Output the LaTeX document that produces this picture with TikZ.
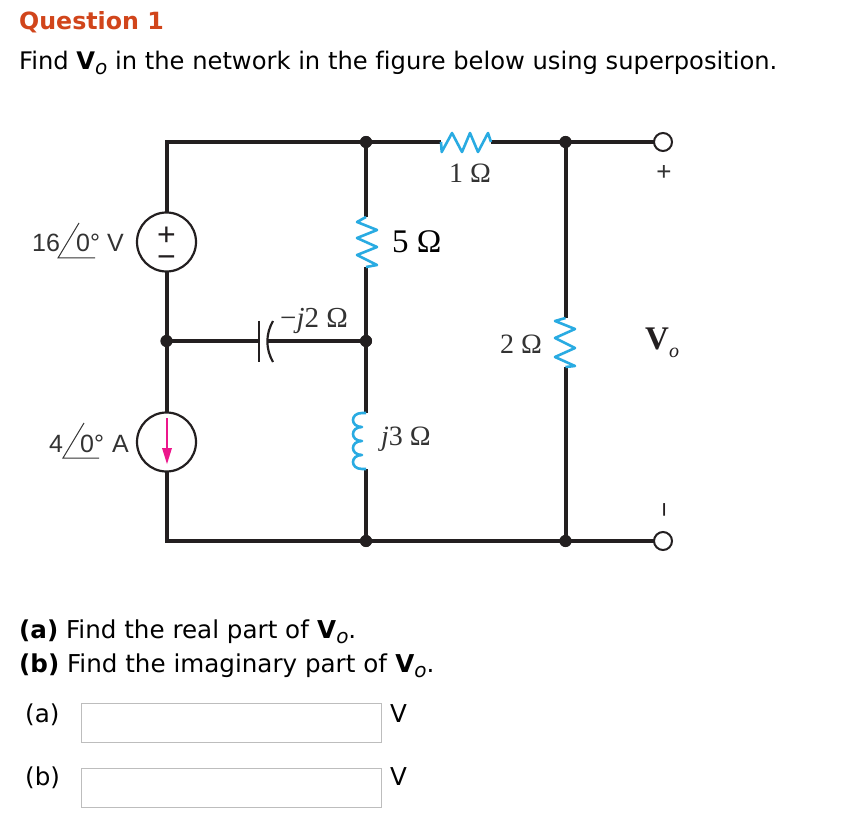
\documentclass[tikz,border=0pt]{standalone}
\usepackage{fontspec}
\setmainfont[Ligatures=NoCommon]{DejaVu Sans}
\newfontfamily\labf{Liberation Sans}
\newfontfamily\serf{Liberation Serif}
\definecolor{wirec}{HTML}{231F20}
\definecolor{cyanc}{HTML}{29ABE2}
\definecolor{pinkc}{HTML}{EC178C}
\definecolor{qred}{HTML}{D1451B}
\definecolor{boxc}{HTML}{BDBDBD}
\definecolor{labc}{HTML}{333333}
\tikzset{
  x=1pt,y=-1pt,
  wire/.style={draw=wirec,line width=4pt},
  thinw/.style={draw=wirec,line width=2.2pt},
  comp/.style={draw=cyanc,line width=2.6pt,line join=round},
  jn/.style={circle,fill=wirec,inner sep=0pt,minimum size=12pt},
  src/.style={circle,draw=wirec,line width=2.2pt,fill=white,inner sep=0pt,minimum size=59pt},
  term/.style={circle,draw=wirec,line width=2pt,fill=white,inner sep=0pt,minimum size=18pt},
  txt/.style={anchor=base west,inner sep=0pt,font=\fontsize{24.2}{26}\selectfont,text=black},
  txtb/.style={txt,font=\fontsize{24.6}{26}\selectfont},
  sans/.style={anchor=base west,inner sep=0pt,font=\labf\fontsize{25}{27}\selectfont,text=labc},
  ser/.style={anchor=base west,inner sep=0pt,font=\serf\fontsize{28}{30}\selectfont,text=labc},
  ang/.style={draw=labc,line width=1pt},
  inbox/.style={draw=boxc,line width=1.2pt,fill=white,anchor=north west,inner sep=0pt,minimum width=300pt,minimum height=39pt},
}
\newcommand{\Vo}{\textbf{V}\raisebox{-5pt}{\fontsize{20}{22}\selectfont\textit{o}}}
\begin{document}
\begin{tikzpicture}
\useasboundingbox[fill=white] (0,0) rectangle (854,834);

% heading and question
\node[txt,font=\bfseries\fontsize{23.7}{26}\selectfont,text=qred] (qt) at (19,30) {Question 1};
\node[txt] (qs) at (19,70) {Find \Vo{} in the network in the figure below using superposition.};

% circuit anchors
\coordinate (tl) at (166.5,142);
\coordinate (bl) at (166.5,541);
\node[jn] (tm) at (366,142) {};
\node[jn] (mm) at (366,341) {};
\node[jn] (bm) at (366,541) {};
\node[jn] (tr) at (565.5,142) {};
\node[jn] (br) at (565.5,541) {};
\node[jn] (mj) at (166.5,341) {};
\coordinate (r1a) at (441,142);
\coordinate (r1b) at (491,142);
\coordinate (r5a) at (366,217);
\coordinate (r5b) at (366,267);
\coordinate (r2a) at (565.5,318);
\coordinate (r2b) at (565.5,367);
\coordinate (la) at (366,413);
\coordinate (lb) at (366,469);
\coordinate (ca) at (259,341);
\coordinate (cb) at (267,341);
\coordinate (vsc) at (166.5,242);
\coordinate (isc) at (166.5,442);
\coordinate (tpc) at (663,142);
\coordinate (tnc) at (663,541);

% wires, drawn under the circles and dots, meeting them at their centres
\draw[wire] (vsc) -- (tl) -- (tm.center) -- (r1a);
\draw[wire] (r1b) -- (tr.center) -- (tpc);
\draw[wire] (tm.center) -- (r5a);
\draw[wire] (r5b) -- (mm.center) -- (la);
\draw[wire] (lb) -- (bm.center);
\draw[wire] (tr.center) -- (r2a);
\draw[wire] (r2b) -- (br.center);
\draw[wire] (vsc) -- (mj.center) -- (isc);
\draw[wire] (isc) -- (bl) -- (bm.center) -- (br.center) -- (tnc);
\draw[wire] (mj.center) -- (ca);
\draw[wire] (cb) -- (mm.center);

% junction dots on top of wires
\node[jn] at (tm.center) {};
\node[jn] at (mm.center) {};
\node[jn] at (bm.center) {};
\node[jn] at (tr.center) {};
\node[jn] at (br.center) {};
\node[jn] at (mj.center) {};

% sources and terminals
\node[src] (vs) at (vsc) {};
\node[src] (is) at (isc) {};
\node[term] (tp) at (tpc) {};
\node[term] (tn) at (tnc) {};

% capacitor
\draw[thinw] (259,321) -- (259,362);
\draw[thinw] (273,321) .. controls (265.5,334) and (265.5,349) .. (273,362);

% resistors
\draw[comp] (r1a) -- (441.7,152) -- (452,133) -- (462,152) -- (470,133) -- (478,152) -- (488,133) -- (r1b);
\draw[comp] (r5a) -- (357,222) -- (377,230) -- (357,238) -- (377,247) -- (357,255) -- (377,265) -- (r5b);
\draw[comp] (r2a) -- (555,321) -- (575,329) -- (555,338) -- (575,348) -- (555,357) -- (575,366) -- (r2b);

% inductor
\draw[comp] (la) -- (362,413)
  .. controls (350,413) and (350,427) .. (362,427)
  .. controls (350,427) and (350,441) .. (362,441)
  .. controls (350,441) and (350,455) .. (362,455)
  .. controls (350,455) and (350,469) .. (362,469) -- (lb);

% source symbols
\node[inner sep=0pt,align=center,font=\labf\fontsize{32}{22}\selectfont,text=wirec] (vpol) at (166.5,247) {+\\−};
\coordinate (ia) at (167,418);
\coordinate (ib) at (167,449);
\draw[draw=pinkc,line width=2pt] (ia) -- (ib);
\fill[pinkc] (162,448) -- (172,448) -- (167,464) -- cycle;

% terminal marks
\node[inner sep=0pt,font=\labf\fontsize{26}{26}\selectfont,text=labc] (plus) at (664,172.5) {+};
\node[inner sep=0pt,rotate=90,font=\labf\fontsize{26}{26}\selectfont,text=wirec] (minus) at (668,510) {−};

% source labels
\node[sans] (l16) at (32,252) {16};
\node[sans] (l0a) at (76,252) {0°};
\node[sans] (lv) at (107,252) {V};
\draw[ang] (79,223) -- (58,258) -- (95,258);
\node[sans] (l4) at (49,452) {4};
\node[sans] (l0b) at (80,452) {0°};
\node[sans] (la2) at (112,452) {A};
\draw[ang] (84,423) -- (63,458) -- (99,458);

% element labels
\node[ser,font=\serf\fontsize{33}{35}\selectfont,text=black] (t5) at (392,253) {5 Ω};
\node[ser] (t1) at (449,183) {1 Ω};
\node[ser] (t2) at (500,353) {2 Ω};
\node[ser,font=\serf\fontsize{29}{31}\selectfont] (tc) at (280,327) {−\textit{j}2 Ω};
\node[ser] (tl3) at (381,445) {\textit{j}3 Ω};
\node[anchor=base west,inner sep=0pt,text=wirec,font=\serf\fontsize{33}{35}\selectfont] (vout) at (645,349) {\textbf{V}\raisebox{-8pt}{\fontsize{20}{22}\selectfont\textit{o}}};

% lower text
\node[txtb] (pa) at (19,638) {\textbf{(a)} Find the real part of \Vo.};
\node[txtb] (pb) at (19,672) {\textbf{(b)} Find the imaginary part of \Vo.};
\node[txtb] (ia1) at (25,722) {(a)};
\node[txtb] (ib1) at (25,785) {(b)};
\node[inbox] (ba) at (81,703) {};
\node[inbox] (bb) at (81,767.5) {};
\node[txtb] (va) at (390,722) {V};
\node[txtb] (vb) at (390,785) {V};
\end{tikzpicture}
\end{document}
